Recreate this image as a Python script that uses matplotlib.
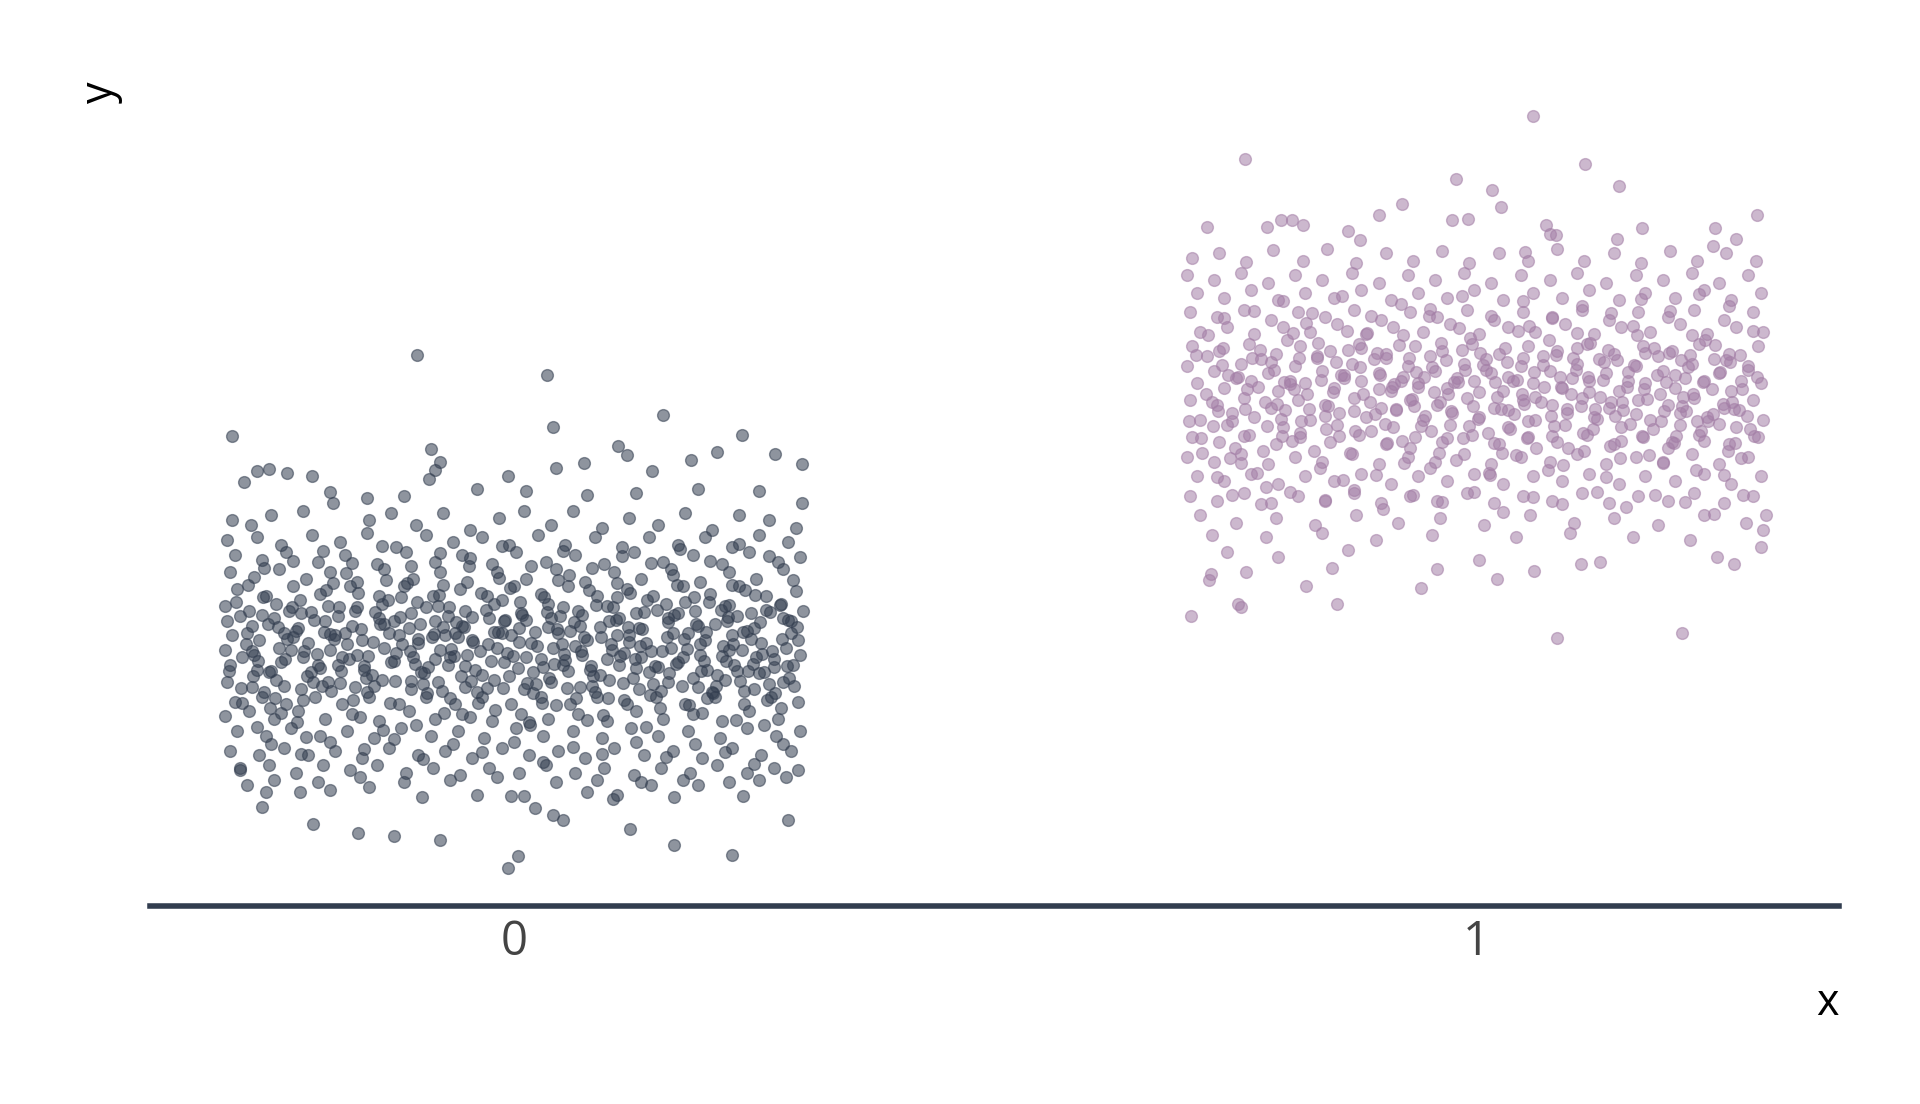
import matplotlib
matplotlib.use("Agg")
import matplotlib.pyplot as plt
import numpy as np

categories = [0, 1]
tick_labels = ["0", "1"]
x_label = "x"
y_label = "y"

# Points inside the clouds overlap too much to read: they are hand-placed estimates.
# Jitter is in 1/786 of a category step; y has no printed scale in the reference,
# so it uses an arbitrary unit.
outliers_0 = [(-79,239),(27,223),(122,190),(-230,173),(32,180),(186,174),(-68,162),(213,158),(235,150),(-60,152),
(85,165),(-64,145),(-69,138),(57,151),(34,147),(92,157),(113,144),(145,153),(166,160),(-5,140),
(-5,-180),(3,-170),(178,-169),(131,-161),(95,-148),(-60,-157),(-98,-154),(-127,-151),(-164,-144),(-206,-130),
(224,-141),(40,-141),(32,-137),(17,-131),(8,-121),(-2,-121),(81,-124),(84,-120),(131,-122),(187,-121),
(-224,-98),(-218,-112),(-202,-118),(-175,-118),(-150,-116),(-118,-114),(-75,-122),(-30,-120),(60,-118),(112,-112),(150,-112),(200,-108),
(-220,135),(-210,144),(-200,146),(-185,143),(-165,140),(-150,127),(-120,122),(-90,124),(-30,130),(10,128),(60,125),(100,126),(150,130),(200,128),(235,118)]

cloud_0 = [-230,104,-215,100,-198,108,-172,112,-148,118,-118,104,-100,110,-80,100,-58,110,-36,96,-12,106,8,112,30,100,48,112,72,98,94,106,118,100,140,110,162,96,184,108,208,104,230,98,
-234,88,-210,90,-190,84,-165,92,-142,86,-120,94,-96,82,-72,92,-50,86,-26,90,-4,84,20,92,42,84,66,90,88,82,110,90,134,84,156,90,178,82,200,92,224,86,
-228,76,-206,72,-186,78,-160,70,-138,76,-112,68,-88,78,-64,70,-42,76,-18,68,2,78,26,70,50,76,74,68,98,78,122,70,146,76,170,68,192,78,216,70,234,74,
-232,62,-212,58,-192,64,-170,56,-150,62,-128,54,-106,64,-82,56,-60,62,-38,54,-14,62,10,56,34,64,58,54,82,62,104,56,128,64,152,54,176,62,198,56,220,64,
-226,48,-202,42,-180,50,-158,44,-134,50,-110,42,-90,50,-66,42,-44,48,-22,42,0,50,22,44,44,50,68,42,92,48,114,42,138,50,160,44,184,50,206,42,230,46,
-236,34,-216,30,-194,36,-174,28,-152,34,-130,30,-108,36,-84,28,-62,34,-40,30,-16,36,6,28,28,36,52,30,76,34,100,28,124,36,148,30,172,34,194,28,218,36,236,30,
-234,22,-214,18,-196,24,-176,16,-154,22,-132,18,-110,24,-86,16,-64,22,-42,18,-20,24,4,16,30,24,54,18,78,22,102,16,126,24,150,18,174,22,196,16,220,24,-224,26,-184,30,-144,26,-98,22,-54,26,-8,22,38,26,86,24,134,28,182,26,226,22,
-230,10,-208,6,-188,12,-168,4,-146,10,-124,6,-102,12,-78,4,-56,10,-34,6,-10,12,14,4,36,12,60,6,84,10,108,4,130,12,156,6,178,10,202,4,226,12,-218,12,-178,14,-138,12,-94,10,-48,12,-2,10,46,14,94,10,142,12,190,14,232,6,
-236,-2,-212,-6,-192,0,-172,-8,-150,-2,-128,-6,-106,0,-82,-8,-60,-2,-38,-6,-14,0,10,-8,32,0,56,-6,80,-2,104,-8,128,0,152,-6,176,-2,198,-8,222,0,-222,-8,-182,-2,-140,-8,-96,-4,-52,-8,-6,-4,42,-10,90,-4,138,-8,186,-2,234,-6,
-232,-14,-210,-18,-190,-12,-166,-20,-144,-14,-122,-18,-100,-12,-76,-20,-54,-14,-32,-18,-8,-12,16,-20,40,-14,62,-18,86,-14,110,-20,134,-12,158,-18,180,-14,204,-20,228,-14,-200,-20,-160,-14,-116,-22,-70,-16,-26,-22,24,-16,70,-22,118,-16,166,-22,212,-16,
-234,-28,-214,-32,-194,-26,-174,-34,-152,-28,-130,-32,-108,-26,-84,-34,-62,-28,-40,-32,-16,-26,8,-34,30,-28,54,-32,78,-26,102,-34,126,-28,150,-32,172,-26,196,-34,220,-28,-204,-36,-164,-28,-120,-36,-74,-30,-30,-36,18,-30,66,-36,114,-30,162,-36,208,-30,
-228,-44,-206,-40,-186,-46,-162,-40,-140,-46,-118,-40,-94,-46,-72,-40,-48,-46,-26,-40,-2,-46,22,-40,46,-46,68,-40,92,-46,116,-40,140,-46,164,-40,188,-46,210,-40,232,-44,
-236,-56,-216,-52,-196,-58,-176,-52,-154,-58,-132,-54,-110,-60,-86,-52,-64,-58,-42,-54,-18,-60,6,-54,28,-58,52,-54,76,-60,100,-52,122,-58,146,-54,170,-60,192,-52,216,-58,
-226,-68,-202,-72,-182,-66,-158,-72,-136,-68,-114,-74,-92,-66,-68,-72,-46,-68,-24,-74,2,-66,24,-72,48,-68,72,-74,96,-66,118,-72,142,-68,168,-74,190,-66,214,-72,234,-68,
-232,-84,-208,-88,-188,-82,-168,-88,-146,-84,-124,-90,-102,-82,-78,-88,-56,-84,-34,-90,-10,-82,12,-88,36,-84,58,-90,82,-82,106,-88,130,-84,154,-90,178,-82,202,-88,226,-84,
-224,-100,-200,-96,-178,-102,-156,-96,-134,-100,-112,-96,-88,-102,-66,-98,-44,-104,-20,-98,4,-102,26,-96,50,-102,74,-98,98,-104,120,-98,144,-102,166,-96,190,-102,212,-98,232,-100,
-196,-108,-160,-110,-126,-106,-90,-110,-52,-108,-14,-106,34,-110,68,-108,104,-110,138,-108,176,-110,222,-106]

core_0 = [-227,37,-219,3,-213,-23,-205,41,-199,-49,-193,17,-187,-9,-181,33,-177,-61,-171,-3,-163,23,-157,-31,-153,47,-147,7,-141,-19,-137,61,-131,-43,-125,15,-119,-7,-113,29,-107,-67,-103,39,-97,-27,-91,3,-87,53,-81,-13,-77,19,-71,-37,-67,9,-61,43,-57,-53,-51,-1,-47,21,-43,-23,-37,67,-33,5,-29,-45,-23,31,-19,-11,-13,13,-9,-33,-3,49,3,-17,7,27,13,-63,19,1,25,41,29,-25,35,15,41,-5,45,59,51,-41,57,9,63,-15,67,35,73,-55,79,3,83,23,89,-29,95,45,99,-9,105,15,111,-39,117,31,121,-3,127,-21,133,51,139,7,143,-47,149,19,155,-11,159,37,165,-31,171,1,175,25,181,-59,187,13,191,-19,197,43,203,-5,209,29,213,-37,219,7,225,-25,231,17,
-233,-19,-223,-33,-217,51,-209,-11,-201,19,-195,-41,-185,7,-175,39,-169,-23,-161,-5,-155,13,-149,-35,-143,33,-135,-9,-127,45,-121,-25,-115,5,-109,19,-101,-45,-93,25,-85,-3,-79,37,-73,-21,-65,11,-59,-35,-53,33,-49,-7,-41,17,-35,-27,-27,45,-21,3,-15,-51,-7,23,-1,-7,5,37,11,-29,17,13,23,-45,27,29,33,-13,39,3,43,-33,49,21,55,-3,61,47,65,-23,71,9,77,-41,81,33,87,-7,93,17,97,-25,103,1,109,39,115,-15,119,-49,125,9,131,27,137,-31,141,-1,147,41,153,-19,157,13,163,-37,169,31,173,-11,179,3,185,-27,189,47,195,-13,201,21,207,-43,211,-3,217,35,223,-15,229,-31,
-222,-45,-214,-3,-206,27,-198,-19,-188,-31,-180,9,-172,-43,-166,29,-158,-17,-150,11,-142,-29,-136,3,-128,33,-122,-15,-114,-31,-106,19,-98,-11,-92,41,-84,-27,-78,7,-72,33,-64,-9,-58,17,-52,-41,-46,9,-40,-15,-34,25,-28,-3,-22,-33,-16,13,-10,39,-4,-23,4,5,10,23,16,-37,22,-9,28,17,34,-47,40,33,44,-19,50,1,56,27,64,-31,70,17,76,-9,84,41,90,-43,94,5,100,-17,106,29,112,-3,120,-35,126,21,132,-13,140,37,146,-25,152,3,158,-41,164,19,170,-7,176,35,182,-19,188,-35,194,7,200,-21,206,31,212,-9,218,-49,224,23,
-210,-65,-190,-53,-170,-73,-148,53,-126,-57,-104,55,-80,-63,-58,51,-36,-57,-12,57,12,-61,36,55,60,-59,84,53,108,-65,130,59,154,-53,178,51,204,-63,228,55,
-204,65,-180,71,-156,79,-132,69,-108,83,-84,67,-60,77,-36,73,-10,83,14,67,40,79,64,65,88,75,112,69,136,81,160,71,184,85,208,75,
-198,-79,-174,-87,-150,-77,-122,-83,-98,-75,-74,-91,-50,-79,-26,-85,0,-77,24,-93,48,-81,72,-87,100,-77,124,-89,148,-79,172,-85,196,-95,220,-79]

outliers_1 = [(46,434),(-189,399),(89,395),(-17,383),(116,377),(13,374),(-61,362),(20,360),(-80,353),(229,353),(-7,350),(-20,349),(-151,349),(-160,349),(-142,345),(-220,344),(-171,344),(-105,340),(57,345),(135,343),(195,343),(60,338),(65,337),(115,334),(212,334),(-95,333),(193,328),(40,323),
(66,8),(168,12),(-233,26),(-192,33),(-195,36),(-114,36),(-45,49),(-139,50),(17,56),(-32,64),(47,63),(85,68),(101,70),(2,72),(210,68),(196,74),(-217,60),(-218,55),(-188,62),(-118,65),(-162,74),(-204,78),(-105,80),(232,82)]

cloud_1 = [-232,318,-210,322,-188,315,-166,325,-142,316,-122,326,-98,314,-74,322,-52,316,-28,324,-6,314,18,322,42,316,66,326,88,316,112,322,134,314,158,324,180,316,204,322,228,316,
-236,304,-214,300,-192,306,-170,298,-148,304,-126,300,-102,306,-80,298,-56,304,-34,300,-10,306,12,298,36,304,60,300,82,306,106,298,130,304,152,300,176,306,198,298,222,304,
-228,290,-206,286,-184,292,-162,284,-140,290,-116,286,-94,292,-70,284,-48,290,-24,286,-2,292,22,284,46,290,70,286,92,292,116,284,138,290,162,286,186,292,208,284,232,290,
-234,274,-212,270,-190,276,-168,268,-146,274,-124,270,-100,276,-78,268,-54,274,-32,270,-8,276,14,268,38,274,62,270,86,276,108,268,132,274,156,270,178,276,202,268,226,274,
-226,258,-204,262,-182,256,-158,262,-136,258,-114,264,-90,256,-68,262,-44,258,-22,264,2,256,26,262,48,258,72,264,96,256,118,262,142,258,166,264,188,256,212,262,234,258,
-232,246,-210,242,-186,248,-164,240,-144,246,-120,242,-96,248,-74,240,-50,246,-28,242,-4,248,18,240,42,246,66,242,90,248,112,240,136,246,160,242,182,248,206,240,230,246,-220,238,-176,236,-130,238,-84,236,-38,238,8,236,54,238,100,236,148,238,194,236,
-236,230,-214,226,-192,232,-170,224,-148,230,-126,226,-102,232,-80,224,-56,230,-34,226,-10,232,12,224,36,230,60,226,82,232,106,224,130,230,152,226,176,232,198,224,222,230,
-228,216,-206,212,-184,218,-162,210,-140,216,-116,212,-94,218,-70,210,-48,216,-24,212,-2,218,22,210,46,216,70,212,92,218,116,210,138,216,162,212,186,218,208,210,232,216,-196,220,-152,218,-108,220,-62,218,-16,220,30,218,78,220,124,218,170,220,216,218,
-234,202,-212,198,-190,204,-168,196,-146,202,-124,198,-100,204,-78,196,-54,202,-32,198,-8,204,14,196,38,202,62,198,86,204,108,196,132,202,156,198,178,204,202,196,226,202,-200,192,-156,194,-112,192,-66,194,-20,192,26,194,74,192,120,194,166,192,214,194,
-226,186,-204,182,-182,188,-158,180,-136,186,-114,182,-90,188,-68,180,-44,186,-22,182,2,188,26,180,48,186,72,182,96,188,118,180,142,186,166,182,188,188,212,180,234,186,
-232,172,-210,168,-186,174,-164,166,-144,172,-120,168,-96,174,-74,166,-50,172,-28,168,-4,174,18,166,42,172,66,168,90,174,112,166,136,172,160,168,182,174,206,166,230,172,
-236,156,-214,152,-192,158,-170,150,-148,156,-126,152,-102,158,-80,150,-56,156,-34,152,-10,158,12,150,36,156,60,152,82,158,106,150,130,156,152,152,176,158,198,150,222,156,
-228,140,-206,136,-184,142,-162,134,-140,140,-116,136,-94,142,-70,134,-48,140,-24,136,-2,142,22,134,46,140,70,136,92,142,116,134,138,140,162,136,186,142,208,134,232,140,
-234,124,-212,120,-190,126,-168,118,-146,124,-124,120,-100,126,-78,118,-54,124,-32,120,-8,126,14,118,38,124,62,120,86,126,108,118,132,124,156,120,178,126,202,118,226,124,
-226,108,-196,102,-164,106,-132,100,-98,108,-64,102,-30,106,6,100,44,108,80,102,112,106,148,100,186,108,220,102,234,96,
-216,92,-172,90,-126,94,-82,88,-36,92,32,90,76,94,128,90,174,88,236,108]

core_1 = [-229,239,-221,207,-215,181,-207,245,-201,155,-195,221,-189,195,-183,237,-179,143,-173,201,-165,227,-159,173,-155,251,-149,211,-143,185,-139,265,-133,161,-127,219,-121,197,-115,233,-109,137,-105,243,-99,177,-93,207,-89,257,-83,191,-79,223,-73,167,-69,213,-63,247,-59,151,-53,203,-49,225,-45,181,-39,271,-35,209,-31,159,-25,235,-21,193,-15,217,-11,171,-5,253,1,187,5,231,11,141,17,205,23,245,27,179,33,219,39,199,43,263,49,163,55,213,61,189,65,239,71,149,77,207,81,227,87,175,93,249,97,195,103,219,109,165,115,235,119,201,125,183,131,255,137,211,141,157,147,223,153,193,157,241,163,173,169,205,173,229,179,145,185,217,189,185,195,247,201,199,207,233,211,167,217,211,223,179,229,221,
-235,185,-225,171,-219,255,-211,193,-203,223,-197,163,-187,211,-177,243,-171,181,-163,199,-157,217,-151,169,-145,237,-137,195,-129,249,-123,179,-117,209,-111,223,-103,159,-95,229,-87,201,-81,241,-75,183,-67,215,-61,169,-55,237,-51,197,-43,221,-37,177,-29,249,-23,207,-17,153,-9,227,-3,197,3,241,9,175,15,217,21,159,25,233,31,191,37,207,41,171,47,225,53,201,59,251,63,181,69,213,75,163,79,237,85,197,91,221,95,179,101,205,107,243,113,189,117,155,123,213,129,231,135,173,139,203,145,245,151,185,155,217,161,167,167,235,171,193,177,207,183,177,187,251,193,191,199,225,205,161,209,201,215,239,221,189,227,173,
-224,159,-216,201,-208,231,-200,185,-190,173,-178,213,-174,161,-168,233,-160,187,-152,215,-144,175,-138,207,-130,237,-124,189,-112,173,-108,223,-100,193,-94,245,-86,177,-80,211,-74,237,-66,195,-60,221,-54,163,-48,213,-42,189,-36,229,-30,201,-24,171,-18,217,-12,243,-6,181,2,209,8,227,14,167,20,195,26,221,32,157,38,237,42,185,48,205,54,231,62,173,68,221,74,195,82,245,88,161,92,209,98,187,104,233,110,201,118,169,124,225,130,191,138,241,144,179,150,207,156,163,162,223,168,197,174,239,180,185,186,169,192,211,198,183,204,235,210,195,216,155,222,227,
-212,139,-192,151,-172,131,-150,257,-128,147,-106,259,-82,141,-60,255,-38,147,-14,261,10,143,34,259,58,145,82,257,106,139,128,263,152,151,176,255,202,141,226,259,
-206,269,-182,275,-158,283,-134,273,-110,287,-86,271,-62,281,-38,277,-12,287,12,271,38,283,62,269,86,279,110,273,134,285,158,275,182,289,206,279,
-200,125,-176,117,-152,127,-124,121,-100,129,-76,113,-52,125,-28,119,-2,127,22,111,46,123,70,117,98,127,122,115,146,125,170,119,194,109,218,125]

def unpack_pairs(pairs):
    return [p[0] for p in pairs], [p[1] for p in pairs]

def unpack_flat(flat):
    return flat[0::2], flat[1::2]

j0a, y0a = unpack_pairs(outliers_0)
j0b, y0b = unpack_flat(cloud_0 + core_0)
j1a, y1a = unpack_pairs(outliers_1)
j1b, y1b = unpack_flat(cloud_1 + core_1)

dark = "#323d4f"
purple = "#a37ea6"

fig = plt.figure(figsize=(19.2, 11.04), dpi=100)
ax = fig.add_axes([150/1920, 1-906/1104, (1839-150)/1920, (906-60)/1104])

for cat, col, ja, ya, jb, yb in [(categories[0], dark, j0a, y0a, j0b, y0b),
                                 (categories[1], purple, j1a, y1a, j1b, y1b)]:
    xs = cat + np.array(ja + jb) / 786
    ys = np.array(ya + yb)
    ax.scatter(xs, ys, s=72, color=col, alpha=0.55, linewidths=1, edgecolors=col, zorder=3)

ax.set_xlim(-0.378, 1.3766)
ax.set_ylim(-211, 480)
ax.set_xticks(categories, tick_labels)
ax.set_yticks([])
for s in ["top", "left", "right"]:
    ax.spines[s].set_visible(False)
ax.spines["bottom"].set_color(dark)
ax.spines["bottom"].set_linewidth(4)
ax.tick_params(axis="x", length=0, pad=9, labelsize=34, labelcolor="#444444")
for t in ax.get_xticklabels():
    t.set_family("Open Sans")

ax.set_xlabel(x_label, fontsize=31, family="Open Sans", color="black", loc="right")
ax.xaxis.set_label_coords(1.0, -0.089)
ax.set_ylabel(y_label, fontsize=31, family="Open Sans", color="black", loc="top")
ax.yaxis.set_label_coords(-0.016, 0.975)

fig.savefig("out.png", dpi=100, facecolor="white")
